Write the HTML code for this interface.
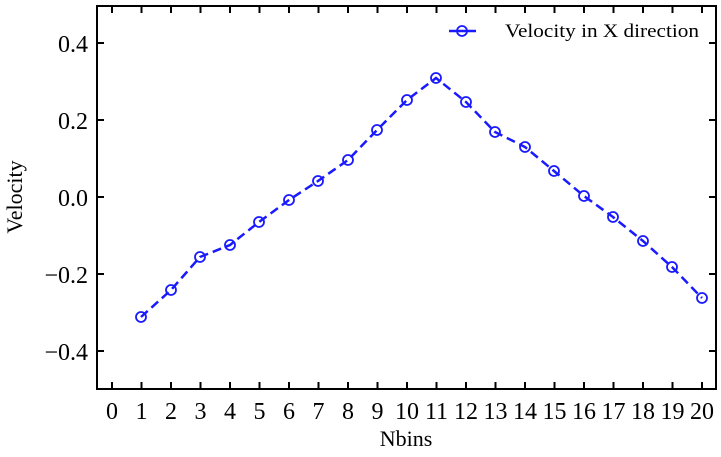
<!DOCTYPE html>
<html><head><style>body{margin:0;background:#fff}svg{display:block}text{font-family:"Liberation Serif",serif;fill:#000}</style></head><body>
<svg width="721" height="457" xmlns="http://www.w3.org/2000/svg">
<g stroke="#000" stroke-width="2">
<path d="M112,389v-7M141.5,389v-7M171,389v-7M200.5,389v-7M230,389v-7M259.5,389v-7M289,389v-7M318.5,389v-7M348,389v-7M377.5,389v-7M407,389v-7M436.5,389v-7M466,389v-7M495.5,389v-7M525,389v-7M554.5,389v-7M584,389v-7M613.5,389v-7M643,389v-7M672.5,389v-7M702,389v-7"/>
<path d="M112,6v7M141.5,6v7M171,6v7M200.5,6v7M230,6v7M259.5,6v7M289,6v7M318.5,6v7M348,6v7M377.5,6v7M407,6v7M436.5,6v7M466,6v7M495.5,6v7M525,6v7M554.5,6v7M584,6v7M613.5,6v7M643,6v7M672.5,6v7M702,6v7"/>
<path d="M97,43h7M97,120h7M97,197h7M97,274h7M97,351h7M716,43h-7M716,120h-7M716,197h-7M716,274h-7M716,351h-7"/>
<rect x="97" y="6" width="619" height="383" fill="none"/>
</g>
<g font-size="24" text-anchor="end">
<text x="88" y="52">0.4</text><text x="88" y="129">0.2</text><text x="88" y="206">0.0</text>
<text x="88" y="283">−0.2</text><text x="88" y="360">−0.4</text>
</g>
<g font-size="24" text-anchor="middle">
<text x="112" y="419">0</text><text x="141.5" y="419">1</text><text x="171" y="419">2</text><text x="200.5" y="419">3</text><text x="230" y="419">4</text><text x="259.5" y="419">5</text><text x="289" y="419">6</text><text x="318.5" y="419">7</text><text x="348" y="419">8</text><text x="377.5" y="419">9</text><text x="407" y="419">10</text><text x="436.5" y="419">11</text><text x="466" y="419">12</text><text x="495.5" y="419">13</text><text x="525" y="419">14</text><text x="554.5" y="419">15</text><text x="584" y="419">16</text><text x="613.5" y="419">17</text><text x="643" y="419">18</text><text x="672.5" y="419">19</text><text x="702" y="419">20</text>
</g>
<text x="406" y="446" font-size="22" text-anchor="middle">Nbins</text>
<text transform="translate(22,197) rotate(-90)" font-size="22" text-anchor="middle">Velocity</text>
<g stroke="#1a1aff" stroke-width="2.5" fill="none">
<polyline stroke-dasharray="9,5" points="141,317 171,290 200,257 230,245 259,222 289,200 318,181 348,160 377,130 407,100 436,78 466,102 495,132 525,147 554,171 584,196 613,217 643,241 672,267 702,298"/>
<g stroke-width="1.8">
<circle cx="141" cy="317" r="5"/><circle cx="171" cy="290" r="5"/><circle cx="200" cy="257" r="5"/><circle cx="230" cy="245" r="5"/><circle cx="259" cy="222" r="5"/><circle cx="289" cy="200" r="5"/><circle cx="318" cy="181" r="5"/><circle cx="348" cy="160" r="5"/><circle cx="377" cy="130" r="5"/><circle cx="407" cy="100" r="5"/><circle cx="436" cy="78" r="5"/><circle cx="466" cy="102" r="5"/><circle cx="495" cy="132" r="5"/><circle cx="525" cy="147" r="5"/><circle cx="554" cy="171" r="5"/><circle cx="584" cy="196" r="5"/><circle cx="613" cy="217" r="5"/><circle cx="643" cy="241" r="5"/><circle cx="672" cy="267" r="5"/><circle cx="702" cy="298" r="5"/>
</g>
<path d="M449,31h9M458,31h8M466,31h10"/>
<circle cx="462" cy="31" r="5" stroke-width="1.8"/>
</g>
<text x="505" y="37" font-size="19" textLength="194" lengthAdjust="spacingAndGlyphs">Velocity in X direction</text>
</svg>
</body></html>
